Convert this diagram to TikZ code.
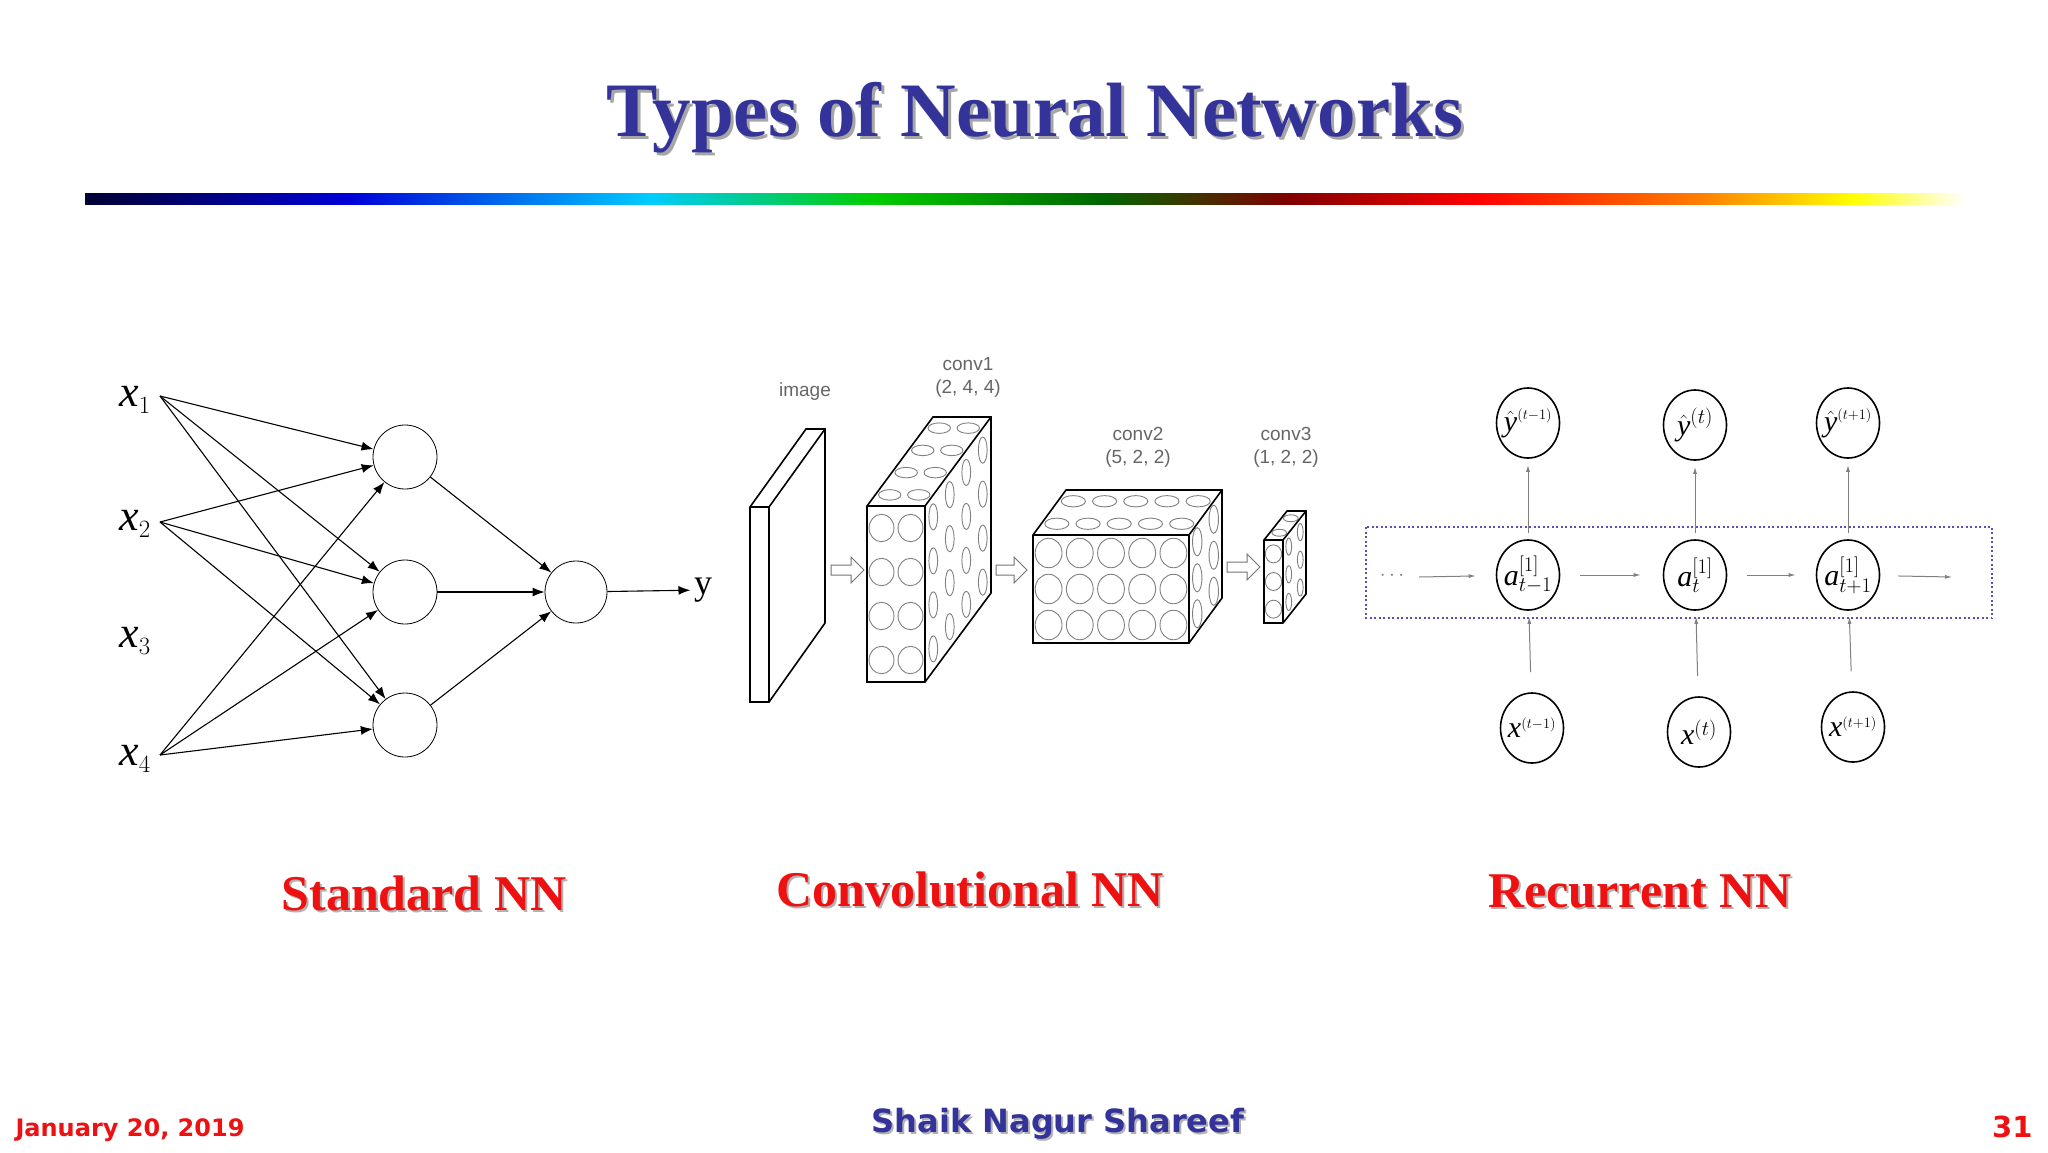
\documentclass[tikz,border=0pt]{standalone}
\usepackage{fontspec}
\setmainfont{Liberation Serif}
\newfontfamily\ver{DejaVu Sans}
\newfontfamily\lsans{Liberation Sans}
\usetikzlibrary{arrows.meta,shapes.geometric}
\definecolor{ttl}{HTML}{333399}
\definecolor{rd}{HTML}{EE1111}
\definecolor{dots}{HTML}{5B4FB5}
\pgfdeclarehorizontalshading{rainbow}{100bp}{
 color(0bp)=(black!80!blue); color(25bp)=(black!80!blue); color(32bp)=(blue!85!black); color(40bp)=(cyan!80!blue); color(46bp)=(green!80!black);
 color(52bp)=(green!40!black); color(57bp)=(red!50!black); color(62bp)=(red); color(68bp)=(orange); color(72bp)=(yellow); color(75bp)=(white); color(100bp)=(white)}
\tikzset{
 neur/.style={circle,draw,thick,minimum size=64pt,inner sep=0pt},
 ed/.style={-{Latex[length=12pt,width=9pt]},line width=1.1pt},
 rn/.style={ellipse,draw,line width=1.6pt,minimum width=63pt,minimum height=70pt,inner sep=-6pt,font=\fontsize{30}{32}\selectfont},
 ga/.style={-{Latex[length=7pt,width=4pt]},gray,line width=1pt},
 captxt/.style={font=\fontsize{50}{56}\bfseries\selectfont,text=rd},
 cl/.style={font=\lsans\fontsize{19}{23}\selectfont,text=black!60},
 hol/.style={draw=black!55,line width=1pt,fill=white},
 ov/.style={draw=black!50,line width=0.9pt},
 xl/.style={font=\fontsize{44}{46}\selectfont}
}
\newcommand\cnnblock[9]{% x0 y0 x1 y1 dx dy cols rows depth
 \draw[line width=1.6pt,fill=white] (#1,#2)--(#1+#5,#2+#6)--(#3+#5,#2+#6)--(#3+#5,#4+#6)--(#3,#4)--(#1,#4)--cycle;
 \draw[line width=1.6pt] (#1,#2)--(#3,#2)--(#3+#5,#2+#6) (#3,#2)--(#3,#4);
 \pgfmathsetmacro\cw{(#3-#1)/#7}\pgfmathsetmacro\rh{(#4-#2)/#8}
 \pgfmathsetmacro\rr{0.43*min(\cw,\rh)}
 \foreach \i in {1,...,#7}{\foreach \j in {1,...,#8}{
   \draw[ov] (#1+\i*\cw-0.5*\cw,#2+\j*\rh-0.5*\rh) ellipse[x radius=\rr,y radius=1.1*\rr];}}
 \foreach \i in {1,...,#7}{\foreach \k in {1,...,#9}{
   \draw[ov] (#1+\i*\cw-0.5*\cw+\k*#5/#9-0.5*#5/#9,#2+\k*#6/#9-0.5*#6/#9) ellipse[x radius=0.9*\rr,y radius=0.42*\rr];}}
 \foreach \j in {1,...,#8}{\foreach \k in {1,...,#9}{
   \draw[ov] (#3+\k*#5/#9-0.5*#5/#9,#2+\j*\rh-0.5*\rh+\k*#6/#9-0.5*#6/#9) ellipse[x radius=0.35*\rr,y radius=1.05*\rr];}}
}
\newcommand\hollowarrow[3]{% x0 x1 y
 \draw[hol] (#1,#3-5)--(#2-13,#3-5)--(#2-13,#3-13)--(#2,#3)--(#2-13,#3+13)--(#2-13,#3+5)--(#1,#3+5)--cycle;}
\newcommand\sm[1]{{\scriptscriptstyle #1}}
\begin{document}
\begin{tikzpicture}[x=1pt,y=-1pt]
\useasboundingbox (0,0) rectangle (2048,1152);
\fill[white] (0,0) rectangle (2048,1152);
% title
\node[text=black!35] at (1038,121) {\fontsize{77}{82}\bfseries\selectfont Types of Neural Networks};
\node[text=ttl] (title) at (1035,118) {\fontsize{77}{82}\bfseries\selectfont Types of Neural Networks};
\shade[shading=rainbow] (85,193) rectangle (1965,204);
% standard NN
\node[xl] (x1) at (135,400) {\textit{x}$_1$};
\node[xl] (x2) at (135,524) {\textit{x}$_2$};
\node[xl] (x3) at (135,641) {\textit{x}$_3$};
\node[xl] (x4) at (135,759) {\textit{x}$_4$};
\coordinate (s1) at (160,396); \coordinate (s2) at (160,522); \coordinate (s4) at (160,755);
\node[neur] (h1) at (405,457) {};
\node[neur] (h2) at (405,592) {};
\node[neur] (h3) at (405,725) {};
\node[neur,minimum size=62pt] (o) at (576,592) {};
\node (y) at (703,590) {\fontsize{36}{40}\selectfont y};
\foreach \s in {s1,s2,s4}{\foreach \h in {h1,h2,h3}{\draw[ed] (\s) -- (\h);}}
\foreach \h in {h1,h2,h3}{\draw[ed] (\h) -- (o);}
\draw[ed] (o) -- (y);
% CNN
\draw[line width=1.6pt,fill=white] (750,507)--(806,429)--(825,429)--(825,623)--(769,702)--(750,702)--cycle;
\draw[line width=1.6pt] (750,507)--(769,507)--(825,429) (769,507)--(769,702);
\cnnblock{867}{506}{925}{682}{66}{-89}{2}{4}{4}
\cnnblock{1033}{535}{1189}{643}{33}{-45}{5}{3}{2}
\cnnblock{1264}{540}{1283}{623}{23}{-29}{1}{3}{2}
\hollowarrow{831}{864}{570}
\hollowarrow{996}{1027}{570}
\hollowarrow{1227}{1260}{567}
\node[cl] (limg) at (805,392) {image};
\node[cl,align=center] (lc1) at (968,377) {conv1\\(2, 4, 4)};
\node[cl,align=center] (lc2) at (1138,447) {conv2\\(5, 2, 2)};
\node[cl,align=center] (lc3) at (1286,447) {conv3\\(1, 2, 2)};
% RNN
\draw[dots,line width=2pt,dash pattern=on 2pt off 2.5pt] (1366,527) rectangle (1992,618);
\node[rn] (y1) at (1528,423) {$\hat{\textit{y}}^{\sm{(t-1)}}$};
\node[rn] (y2) at (1695,425) {$\hat{\textit{y}}^{(t)}$};
\node[rn] (y3) at (1848,423) {$\hat{\textit{y}}^{\sm{(t+1)}}$};
\node[rn] (a1) at (1528,575) {\textit{a}$^{[1]}_{t-1}$};
\node[rn] (a2) at (1695,575) {\textit{a}$^{[1]}_{t}$};
\node[rn] (a3) at (1848,575) {\textit{a}$^{[1]}_{t+1}$};
\node[rn] (xx1) at (1532,728) {\textit{x}$^{\sm{(t-1)}}$};
\node[rn] (xx2) at (1699,732) {\textit{x}$^{(t)}$};
\node[rn] (xx3) at (1853,727) {\textit{x}$^{\sm{(t+1)}}$};
\node[text=gray] (dd) at (1392,576) {\fontsize{20}{20}\selectfont$\cdots$};
\coordinate (d0) at (1419,577);
\coordinate (e) at (1952,577);
\draw[ga,shorten >=20pt] (d0) -- (a1);
\draw[ga,shorten <=20pt,shorten >=22pt] (a1) -- (a2);
\draw[ga,shorten <=20pt,shorten >=20pt] (a2) -- (a3);
\draw[ga,shorten <=18pt] (a3) -- (e);
\foreach \i in {1,2,3}{\draw[ga,shorten <=6pt,shorten >=6pt] (a\i) -- (y\i); \draw[ga,shorten <=20pt,shorten >=6pt] (xx\i) -- (a\i);}
% captions
\node[captxt,text=black!30] at (426,895) {Standard NN};
\node[captxt] (c1) at (424,893) {Standard NN};
\node[captxt,text=black!30] at (972,891) {Convolutional NN};
\node[captxt] (c2) at (970,889) {Convolutional NN};
\node[captxt,text=black!30] at (1642,893) {Recurrent NN};
\node[captxt] (c3) at (1640,891) {Recurrent NN};
% footer
\node[anchor=west,text=rd] (date) at (12,1130) {\ver\bfseries\fontsize{24}{28}\selectfont January 20, 2019};
\node[text=black!30] at (1060,1126) {\ver\bfseries\fontsize{32}{36}\selectfont Shaik Nagur Shareef};
\node[text=ttl] (auth) at (1058,1124) {\ver\bfseries\fontsize{32}{36}\selectfont Shaik Nagur Shareef};
\node[anchor=east,text=rd] (pg) at (2036,1127) {\ver\bfseries\fontsize{29}{30}\selectfont 31};
\end{tikzpicture}
\end{document}
